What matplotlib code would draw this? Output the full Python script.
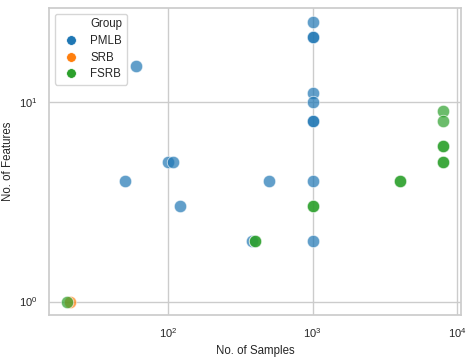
import matplotlib
matplotlib.use("Agg")
import matplotlib.pyplot as plt
import seaborn as sns
from matplotlib.lines import Line2D

sns.set_theme(style="whitegrid")
plt.rcParams['font.family'] = ['Liberation Sans', 'DejaVu Sans']

groups = ["PMLB", "SRB", "FSRB"]
colors = {"PMLB": "#1f77b4", "SRB": "#ff7f0e", "FSRB": "#2ca02c"}

pmlb_samples = [60, 100, 108, 50, 120, 500, 380, 1000, 1000, 1000, 1000, 1000, 1000, 1000, 1000, 1000]
pmlb_features = [15, 5, 5, 4, 3, 4, 2, 25, 21, 21, 11, 10, 8, 8, 4, 2]

srb_samples = [21]
srb_features = [1]

fsrb_samples = [20, 400, 400, 1000, 1000, 4000, 4000, 8000, 8000, 8000, 8000, 8000, 8000]
fsrb_features = [1, 2, 2, 3, 3, 4, 4, 9, 8, 6, 6, 5, 5]

data = {
    "PMLB": (pmlb_samples, pmlb_features),
    "SRB": (srb_samples, srb_features),
    "FSRB": (fsrb_samples, fsrb_features),
}

fig, ax = plt.subplots(figsize=(4.74, 3.62), dpi=100)
fig.subplots_adjust(left=0.103, right=0.973, top=0.978, bottom=0.130)

for g in groups:
    xs, ys = data[g]
    ax.scatter(xs, ys, s=80, color=colors[g], alpha=0.7, edgecolor="white", linewidth=0.6, zorder=3)

ax.set_xscale("log")
ax.set_yscale("log")
ax.set_xlim(14.9, 10700)
ax.set_ylim(0.857, 29.4)
ax.minorticks_off()
ax.set_xlabel("No. of Samples", fontsize=8.3)
ax.set_ylabel("No. of Features", fontsize=8.3)
ax.tick_params(labelsize=8, pad=2)

handles = [Line2D([], [], linestyle="none")]
labels = ["Group"]
for g in groups:
    handles.append(Line2D([], [], marker="o", linestyle="none", markersize=7,
                          markerfacecolor=colors[g], markeredgecolor="white", markeredgewidth=0.5))
    labels.append(g)
ax.legend(handles, labels, loc="upper left", fontsize=8.3, frameon=True,
          handletextpad=0.7, labelspacing=0.4, borderpad=0.4)

plt.savefig("out.png", dpi=100)
